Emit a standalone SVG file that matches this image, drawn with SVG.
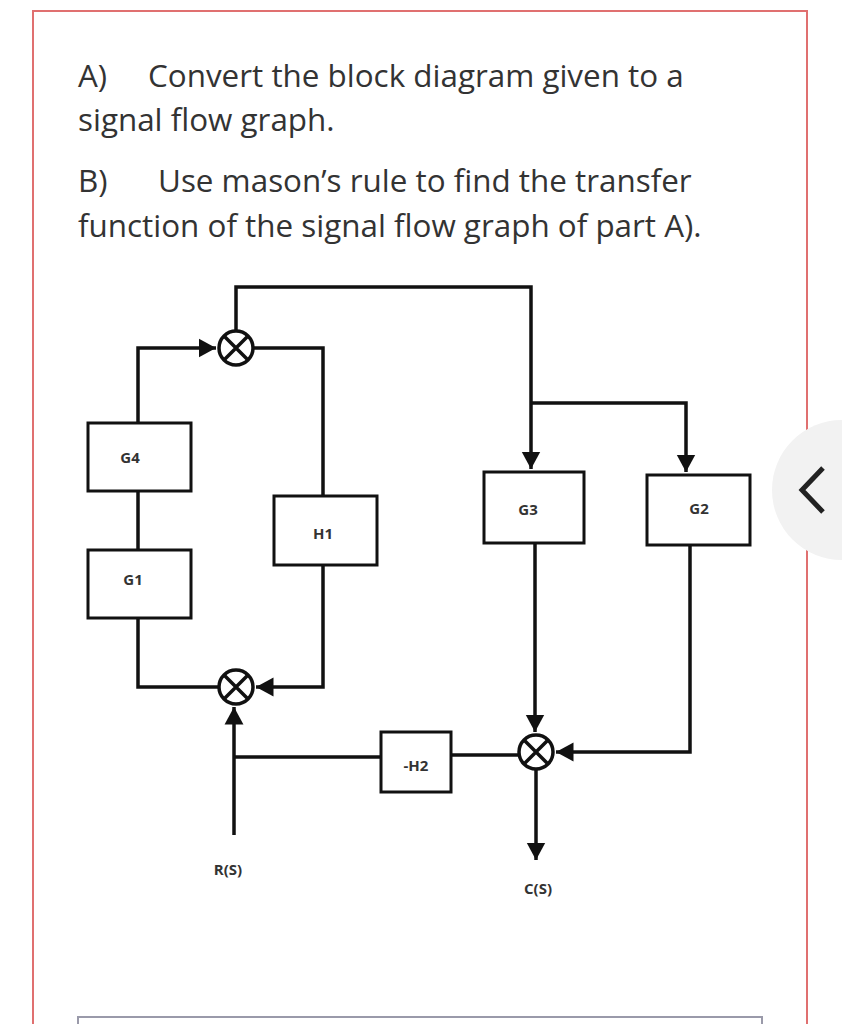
<svg xmlns="http://www.w3.org/2000/svg" width="842" height="1024" viewBox="0 0 842 1024">
<style>
.q{font-family:"Open Sans","Noto Sans",sans-serif;font-size:31.4px;fill:#333}
.b{fill:#fff;stroke:#111;stroke-width:3}
.l{font-family:"Open Sans","DejaVu Sans",sans-serif;font-size:15px;font-weight:bold;fill:#333;text-anchor:middle}
.w{fill:none;stroke:#111;stroke-width:3.5}
.s{fill:#fff;stroke:#111;stroke-width:3.5}
</style>
<defs>
<marker id="a" markerWidth="6" markerHeight="6" refX="5" refY="3" orient="auto" markerUnits="strokeWidth"><path d="M0,0.3L5,3L0,5.7z" fill="#111"/></marker>
<g id="sx"><circle r="17" class="s"/><path d="M-12,-12L12,12M12,-12L-12,12" stroke="#111" stroke-width="3.5"/></g>
</defs>
<rect x="0" y="0" width="842" height="1024" fill="#fff"/>
<path d="M33,1024V11H807V1024" fill="none" stroke="#e07070" stroke-width="2"/>
<text class="q" x="78" y="87">A)<tspan x="148">Convert the block diagram given to a</tspan></text>
<text class="q" x="78" y="131">signal flow graph.</text>
<text class="q" x="78" y="192">B)<tspan x="158">Use mason’s rule to find the transfer</tspan></text>
<text class="q" x="78" y="237">function of the signal flow graph of part A).</text>
<g id="connectors">
<path class="w" d="M236,331V287H531V469" marker-end="url(#a)"/>
<path class="w" d="M531,403H686V472" marker-end="url(#a)"/>
<path class="w" d="M138,423V348H216" marker-end="url(#a)"/>
<path class="w" d="M138,491V550"/>
<path class="w" d="M138,618V687H219"/>
<path class="w" d="M253,348H323V496"/>
<path class="w" d="M323,565V687H256" marker-end="url(#a)"/>
<path class="w" d="M234,835V707" marker-end="url(#a)"/>
<path class="w" d="M234,757H381"/>
<path class="w" d="M451,755H519"/>
<path class="w" d="M535,543V732" marker-end="url(#a)"/>
<path class="w" d="M690,545V752H556" marker-end="url(#a)"/>
<path class="w" d="M536,770V860" marker-end="url(#a)"/>
</g>
<g id="S1"><use href="#sx" x="236" y="348"/></g>
<g id="S2"><use href="#sx" x="236" y="687"/></g>
<g id="S3"><use href="#sx" x="536" y="752"/></g>
<g id="G4"><rect class="b" x="88" y="423" width="103" height="68"/><text class="l" x="130" y="463">G4</text></g>
<g id="G1"><rect class="b" x="88" y="550" width="103" height="68"/><text class="l" x="133" y="585">G1</text></g>
<g id="H1"><rect class="b" x="274" y="496" width="103" height="69"/><text class="l" x="323" y="539">H1</text></g>
<g id="G3"><rect class="b" x="484" y="472" width="100" height="71"/><text class="l" x="528" y="515">G3</text></g>
<g id="G2"><rect class="b" x="647" y="475" width="103" height="70"/><text class="l" x="699" y="514">G2</text></g>
<g id="H2"><rect class="b" x="381" y="732" width="70" height="60"/><text class="l" x="416" y="771">-H2</text></g>
<text class="l" x="228" y="875">R(S)</text>
<text class="l" x="538" y="894">C(S)</text>
<circle cx="842" cy="490" r="70" fill="#f2f2f2"/>
<path d="M823,468L802,490L823,512" fill="none" stroke="#222" stroke-width="5"/>
<rect x="78" y="1017" width="684" height="20" fill="none" stroke="#9a9aaa" stroke-width="2"/>
</svg>
